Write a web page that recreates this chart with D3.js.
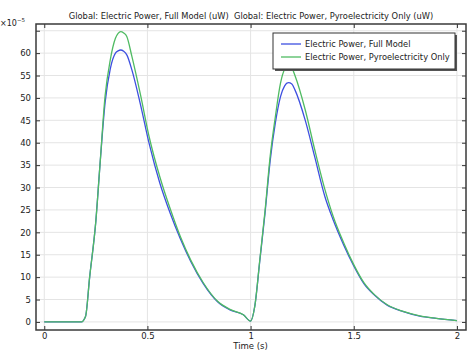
<!DOCTYPE html>
<html>
<head>
<meta charset="utf-8">
<script src="https://cdn.jsdelivr.net/npm/d3@7"></script>
<style>
  body { margin: 0; background: #fff; }
  svg { display: block; font-family: "DejaVu Sans", sans-serif; }
</style>
</head>
<body>
<div id="chart"></div>
<script>
// time axis (s)
var time = [0, 0.1, 0.18, 0.2, 0.22, 0.25, 0.27, 0.295, 0.32, 0.345, 0.358, 0.37, 0.385, 0.4, 0.425, 0.465, 0.51,
  0.56, 0.61, 0.66, 0.71, 0.77, 0.84, 0.9, 0.965, 1.0, 1.02, 1.045, 1.07, 1.095, 1.12, 1.145,
  1.165, 1.183, 1.2, 1.215, 1.265, 1.31, 1.36, 1.4, 1.45, 1.5, 1.55, 1.6, 1.66, 1.74, 1.82, 1.9, 2.0];
// electric power, full model (x1e-5 uW)
var fullModel = [0, 0, 0, 1.2, 10, 22.5, 35, 49, 56.5, 60, 60.5, 60.7, 60.4, 59.6, 56.2, 48.8, 39.5,
  31, 24.3, 18.5, 13.5, 8.6, 4.5, 2.7, 1.6, 0.2, 3.4, 13.8, 24.3, 36, 44.4, 50.3,
  52.7, 53.4, 53.1, 51.8, 45, 37, 28, 22.8, 17.3, 12.5, 8.5, 6, 3.8, 2.3, 1.3, 0.8, 0.3];
// electric power, pyroelectricity only (x1e-5 uW)
var pyroOnly = [0, 0, 0, 1.2, 10, 22.5, 35, 50.5, 58.5, 63.3, 64.4, 64.8, 64.5, 63.7, 59.2, 51, 41,
  32.4, 25.3, 19, 13.8, 8.8, 4.6, 2.8, 1.6, 0.2, 3.4, 14, 24.8, 37, 45.8, 53.3,
  56.4, 57.2, 56.7, 55, 47.3, 38.6, 29.6, 23.6, 17.8, 12.8, 8.7, 6.1, 3.9, 2.35, 1.35, 0.8, 0.3];

var xTicks = [0, 0.5, 1, 1.5, 2];
var xTickLabels = ["0", "0.5", "1", "1.5", "2"];
var yTicks = [0, 5, 10, 15, 20, 25, 30, 35, 40, 45, 50, 55, 60, 65];
var seriesNames = ["Electric Power, Full Model", "Electric Power, Pyroelectricity Only"];
var seriesColors = ["#3d4fe0", "#4fbb62"];

var width = 474, height = 360;
var margin = { top: 24, right: 8, bottom: 30, left: 36 };

var svg = d3.select("#chart").append("svg")
  .attr("width", width).attr("height", height);

var x = d3.scaleLinear().domain([-0.04, 2.044]).range([margin.left, width - margin.right]);
var y = d3.scaleLinear().domain([-1.8, 66.5]).range([height - margin.bottom, margin.top]);

var x0 = margin.left, x1 = width - margin.right;
var y0 = height - margin.bottom, y1 = margin.top;

// grid
svg.append("g").selectAll("line.v").data(xTicks).join("line")
  .attr("x1", function (d) { return x(d); }).attr("x2", function (d) { return x(d); })
  .attr("y1", y1).attr("y2", y0)
  .attr("stroke", "#e4e4e4").attr("stroke-width", 1);
svg.append("g").selectAll("line.h").data(yTicks).join("line")
  .attr("y1", function (d) { return y(d); }).attr("y2", function (d) { return y(d); })
  .attr("x1", x0).attr("x2", x1)
  .attr("stroke", "#e4e4e4").attr("stroke-width", 1);

// curves
var series = [fullModel, pyroOnly];
var line = d3.line()
  .x(function (d, i) { return x(time[i]); })
  .y(function (d) { return y(d); })
  .curve(d3.curveMonotoneX);

svg.append("g").selectAll("path").data(series).join("path")
  .attr("d", line)
  .attr("fill", "none")
  .attr("stroke", function (d, i) { return seriesColors[i]; })
  .attr("stroke-width", 1.3);

// axes with inner ticks
var tickColor = "#333";
svg.append("g").attr("transform", "translate(0," + y0 + ")")
  .call(d3.axisBottom(x).tickValues(xTicks).tickSize(-4).tickFormat(function (d, i) { return xTickLabels[i]; }))
  .call(function (g) {
    g.select(".domain").remove();
    g.selectAll("line").attr("stroke", tickColor);
    g.selectAll("text").attr("y", 3).attr("dy", "0.71em").attr("font-size", "8.5px")
      .attr("font-family", "DejaVu Sans").attr("fill", "#222");
  });
svg.append("g").attr("transform", "translate(0," + y1 + ")")
  .call(d3.axisTop(x).tickValues(xTicks).tickSize(-4).tickFormat(""))
  .call(function (g) { g.select(".domain").remove(); g.selectAll("line").attr("stroke", tickColor); });
svg.append("g").attr("transform", "translate(" + x0 + ",0)")
  .call(d3.axisLeft(y).tickValues(yTicks).tickSize(-4)
    .tickFormat(function (d) { return d === 65 ? "" : d; }))
  .call(function (g) {
    g.select(".domain").remove();
    g.selectAll("line").attr("stroke", tickColor);
    g.selectAll("text").attr("x", -5).attr("font-size", "8.5px")
      .attr("font-family", "DejaVu Sans").attr("fill", "#222");
  });
svg.append("g").attr("transform", "translate(" + x1 + ",0)")
  .call(d3.axisRight(y).tickValues(yTicks).tickSize(-4).tickFormat(""))
  .call(function (g) { g.select(".domain").remove(); g.selectAll("line").attr("stroke", tickColor); });

// frame
svg.append("rect")
  .attr("x", x0).attr("y", y1).attr("width", x1 - x0).attr("height", y0 - y1)
  .attr("fill", "none").attr("stroke", "#3a3a3a").attr("stroke-width", 1.5);

// title
svg.append("text")
  .attr("x", (x0 + x1) / 2).attr("y", 19)
  .attr("text-anchor", "middle").attr("font-size", "8.3px").attr("fill", "#222")
  .text("Global: Electric Power, Full Model (uW)\u00a0 Global: Electric Power, Pyroelectricity Only (uW)");

// exponent label
var expo = svg.append("text").attr("x", 0).attr("y", 26).attr("font-size", "8px").attr("fill", "#222");
expo.append("tspan").text("×10");
expo.append("tspan").attr("dy", -4).attr("font-size", "5.5px").text("−5");

// x axis title
svg.append("text")
  .attr("x", x(1)).attr("y", 349)
  .attr("text-anchor", "middle").attr("font-size", "8.5px").attr("fill", "#222")
  .text("Time (s)");

// legend
var lg = svg.append("g").attr("transform", "translate(273,33)");
lg.append("rect").attr("x", 2).attr("y", 2).attr("width", 182).attr("height", 36).attr("fill", "#555");
lg.append("rect").attr("x", 0).attr("y", 0).attr("width", 182).attr("height", 36)
  .attr("fill", "#fff").attr("stroke", "#333").attr("stroke-width", 1);
var items = lg.selectAll("g.item").data(seriesNames).join("g")
  .attr("transform", function (d, i) { return "translate(0," + (11 + i * 13) + ")"; });
items.append("line").attr("x1", 8).attr("x2", 28).attr("y1", 0).attr("y2", 0)
  .attr("stroke", function (d, i) { return seriesColors[i]; }).attr("stroke-width", 1.3);
items.append("text").attr("x", 32).attr("y", 0).attr("dy", "0.35em")
  .attr("font-size", "8.3px").attr("fill", "#222")
  .text(function (d) { return d; });
</script>
</body>
</html>
